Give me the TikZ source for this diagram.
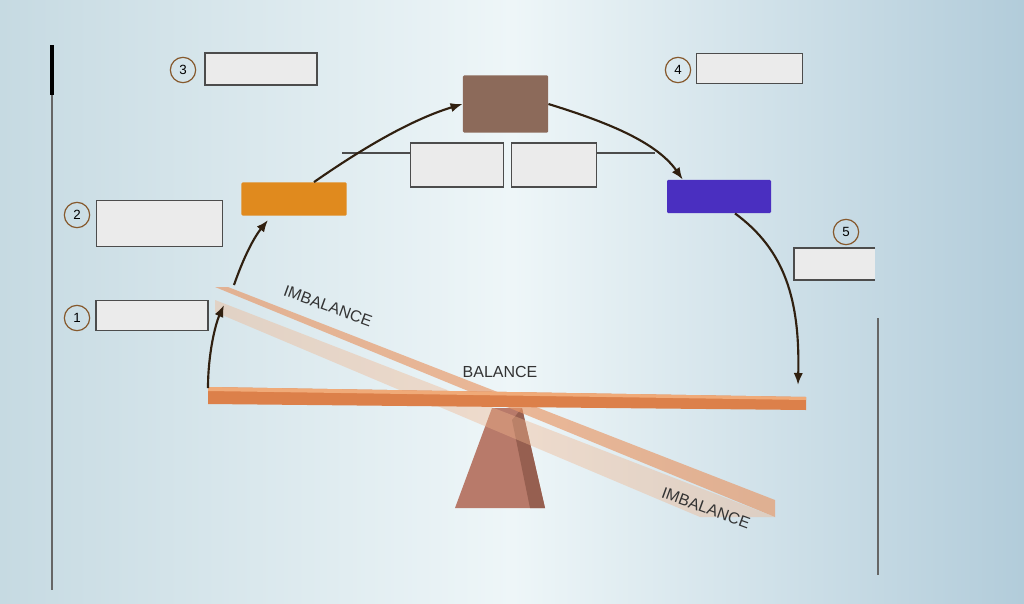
\documentclass[tikz,border=0pt]{standalone}
\usepackage{fontspec}
\setmainfont{Liberation Sans}
\usetikzlibrary{arrows.meta}
\definecolor{bgl}{RGB}{198,218,226}
\definecolor{bgr}{RGB}{178,204,218}
\definecolor{bgm}{RGB}{238,246,248}
\definecolor{corange}{RGB}{224,138,30}
\definecolor{cbrown}{RGB}{140,106,90}
\definecolor{cblue}{RGB}{74,47,192}
\definecolor{fulc}{RGB}{184,122,106}
\definecolor{fulcd}{RGB}{150,95,80}
\definecolor{plank}{RGB}{220,128,74}
\definecolor{plankl}{RGB}{240,170,120}
\definecolor{tilt}{RGB}{232,150,100}
\definecolor{tiltl}{RGB}{240,180,140}
\begin{document}
\begin{tikzpicture}[x=0.75pt,y=-0.75pt,
 blank/.style={draw=black!70,fill=black!8,line width=0.8pt},
 num/.style={circle,draw=brown!70!black,line width=0.9pt,inner sep=1pt,minimum size=19pt,font=\normalsize},
 colbox/.style={draw=none,rounded corners=1pt},
 arr/.style={draw=black!75!brown,line width=1.6pt,-{Latex[length=9pt,width=7pt]}},
 lab/.style={font=\large,text=black!80}]
\shade[left color=bgl,right color=bgr,middle color=bgm] (0,0) rectangle (1024,603);
\useasboundingbox (0,0) rectangle (1024,603);
% frame lines
\draw[black!60,line width=0.8pt] (52,45) -- (52,590);
\draw[black,line width=3pt] (52,45) -- (52,95);
\draw[black!60,line width=0.8pt] (878,318) -- (878,575);
% numbered blanks
\node[num] (n3) at (183,70) {3};
\node[blank,minimum width=84pt,minimum height=24pt] (b3) at (261,69) {};
\node[num] (n4) at (678,70) {4};
\node[blank,minimum width=79pt,minimum height=23pt] (b4) at (749.5,68.5) {};
\node[num] (n2) at (77,215) {2};
\node[blank,minimum width=95pt,minimum height=34pt] (b2) at (159.5,223.5) {};
\node[num] (n1) at (77,318) {1};
\node[blank,minimum width=84pt,minimum height=23pt] (b1) at (152,315.5) {};
\node[num] (n5) at (846,232) {5};
\fill[black!8] (794,248) rectangle (875,280);
\draw[black!70,line width=0.8pt] (875,248) -- (794,248) -- (794,280) -- (875,280);
% coloured boxes
\node[colbox,fill=corange,minimum width=79pt,minimum height=25pt] (orange) at (294,199) {};
\node[colbox,fill=cbrown,minimum width=64pt,minimum height=43pt] (brown) at (505.5,104) {};
\node[colbox,fill=cblue,minimum width=78pt,minimum height=25pt] (blue) at (719,196.5) {};
\node[blank,minimum width=70pt,minimum height=33pt] (w1) at (457,165) {};
\node[blank,minimum width=64pt,minimum height=33pt] (w2) at (554,165) {};
\coordinate (l1) at (342,153);
\coordinate (r1) at (655,153);
\draw[black!70,line width=0.8pt] (l1) -- (w1.west |- l1);
\draw[black!70,line width=0.8pt] (w2.east |- r1) -- (r1);
% seesaw
\fill[fulc] (492,408) -- (522,408) -- (545,508) -- (455,508) -- cycle;
\fill[fulcd] (522,408) -- (545,508) -- (530,508) -- (512,420) -- cycle;
\fill[tilt,opacity=0.65] (215,287) -- (228,287) -- (775,500) -- (775,517) -- cycle;
\fill[tiltl,opacity=0.4] (215,300) -- (775,517) -- (700,517) -- (215,312) -- cycle;
\fill[plank] (208,387) -- (806,397) -- (806,410) -- (208,404) -- cycle;
\fill[plankl] (208,387) -- (806,397) -- (806,400) -- (208,391) -- cycle;
\node[lab,rotate=-20] (imb1) at (328,306) {IMBALANCE};
\node[lab] (bal) at (500,372) {BALANCE};
\node[lab,rotate=-20] (imb2) at (706,508) {IMBALANCE};
% arrows
\coordinate (s0) at (208,388);
\coordinate (s1) at (224,305);
\coordinate (s2) at (234,285);
\coordinate (e5) at (798,385);
\draw[arr] (s0) .. controls (208,355) and (215,325) .. (s1);
\draw[arr] (s2) .. controls (242,262) and (252,240) .. (268,220);
\draw[arr] ([xshift=15pt]orange.north) .. controls (360,150) and (410,120) .. (brown.west);
\draw[arr] (brown.east) .. controls (600,120) and (655,140) .. ([xshift=12pt]blue.north west);
\draw[arr] ([xshift=12pt]blue.south) .. controls (785,250) and (800,300) .. (e5);
\end{tikzpicture}
\end{document}
